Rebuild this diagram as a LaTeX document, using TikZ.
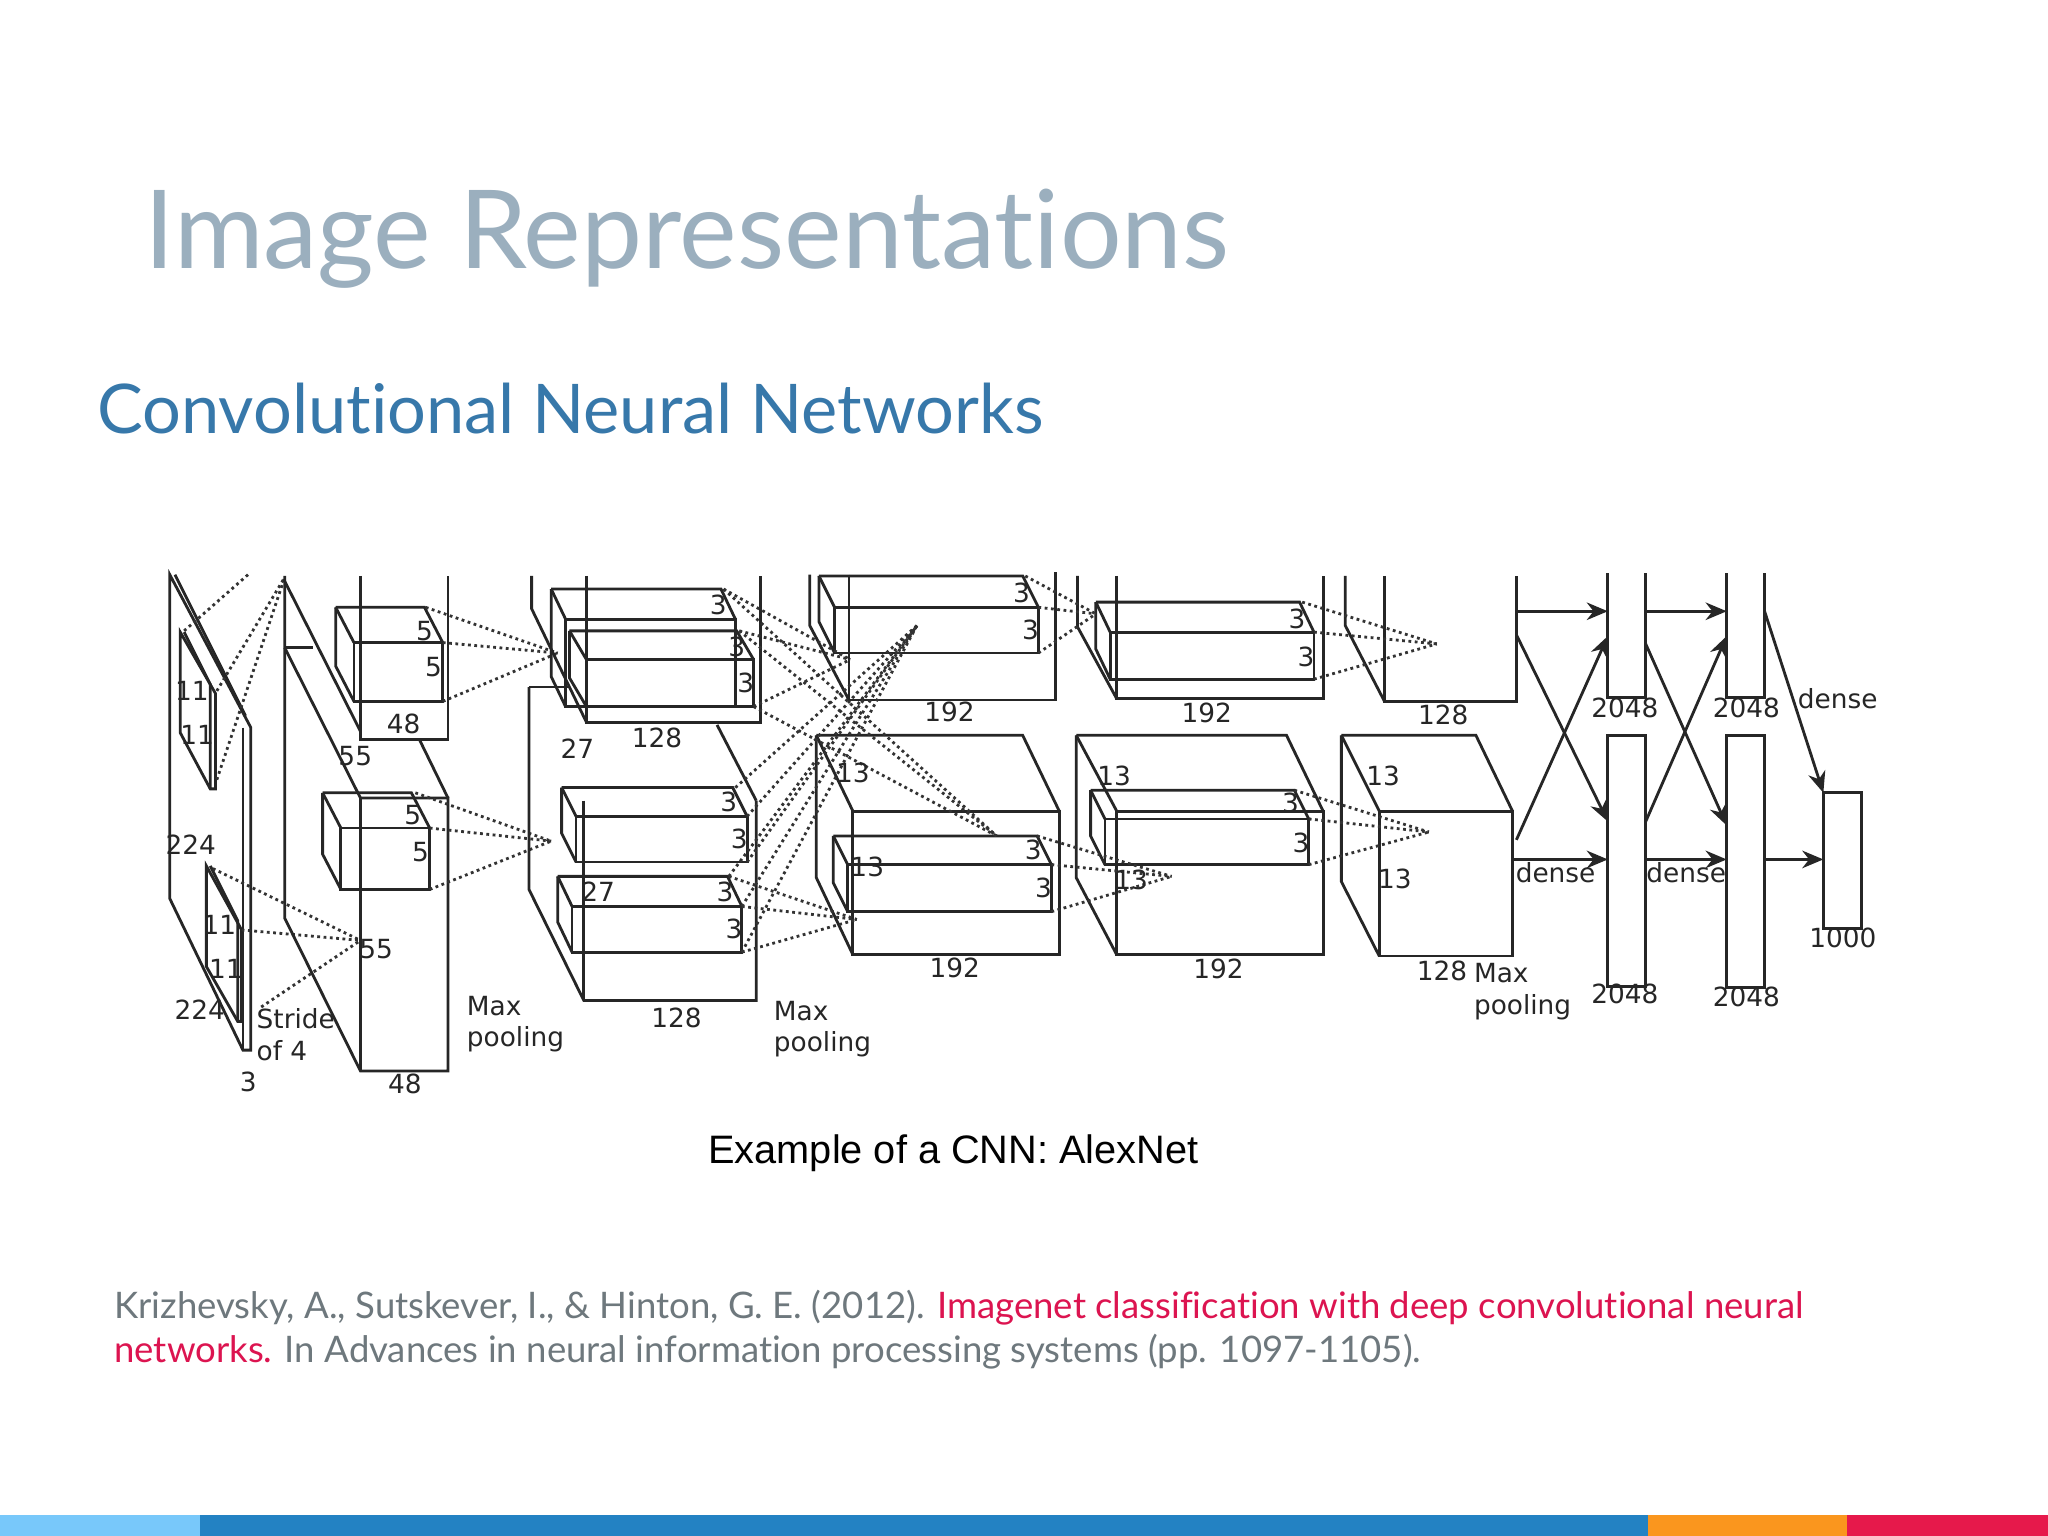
\documentclass[tikz,border=0pt]{standalone}
\usepackage{fontspec}
\setmainfont{Lato}[RawFeature=-liga]
\newfontfamily\figf{DejaVu Sans}
\newfontfamily\arialf{Liberation Sans}
\usetikzlibrary{arrows.meta}
\definecolor{titlec}{RGB}{155,175,190}
\definecolor{subc}{RGB}{55,120,170}
\definecolor{citec}{RGB}{110,120,125}
\definecolor{pinkc}{RGB}{220,20,80}
\definecolor{barA}{RGB}{120,200,250}
\definecolor{barB}{RGB}{35,130,195}
\definecolor{barC}{RGB}{250,150,30}
\definecolor{barD}{RGB}{230,25,75}
\newcommand\alexcube[6]{%
  \draw[ln] (#1,#2) rectangle (#3,#4);
  \draw[ln] (#5,#6) -- ({#5+#3-#1},#6) -- (#3,#2);
  \draw[ln] (#5,#6) -- (#1,#2);
  \draw[ln] (#5,#6) -- (#5,{#6+#4-#2}) -- (#1,#4);
}
\begin{document}
\begin{tikzpicture}[x=0.013061cm,y=-0.013061cm,
  ln/.style={line width=0.8pt,black!85},
  dl/.style={line width=0.8pt,densely dotted,black!80},
  ar/.style={line width=0.8pt,black!85,-{Stealth[length=6pt,width=5pt]}},
  lb/.style={font=\figf\fontsize{7.5}{9}\selectfont,inner sep=0pt,text=black!85},
  lbl/.style={lb,anchor=west,align=left}]
\fill[white] (0,0) rectangle (1568,1176);
\useasboundingbox (0,0) rectangle (1568,1176);
% texts
\node[anchor=west,text=titlec,font=\fontsize{31}{36}\selectfont,inner sep=0pt] (title) at (110,183) {Image Representations};
\node[anchor=west,text=subc,font=\fontsize{19.5}{24}\selectfont,inner sep=0pt] (sub) at (74,313) {Convolutional Neural Networks};
\node[text=black,font=\arialf\fontsize{11.3}{13}\selectfont,inner sep=0pt] (cap) at (730,883) {Example of a CNN: AlexNet};
\node[anchor=west,text=citec,font=\fontsize{10.4}{13}\selectfont,inner sep=0pt] (cite1) at (87,1001) {Krizhevsky, A., Sutskever, I., \& Hinton, G. E. (2012). \textcolor{pinkc}{Imagenet classification with deep convolutional neural}};
\node[anchor=west,text=citec,font=\fontsize{10.4}{13}\selectfont,inner sep=0pt] (cite2) at (87,1035) {\textcolor{pinkc}{networks.} In Advances in neural information processing systems (pp. 1097-1105).};
% bar
\fill[barA] (0,1160) rectangle (153,1176);
\fill[barB] (153,1160) rectangle (1262,1176);
\fill[barC] (1262,1160) rectangle (1414,1176);
\fill[barD] (1414,1160) rectangle (1568,1176);
% ---- input
\draw[ln] (130,440) -- (192,557) -- (192,804) -- (186,804) -- (130,688) -- cycle;
\draw[ln] (134,440) -- (188,548);
\draw[ln] (186,557) -- (186,804);
\draw[ln] (138,484) -- (165,531) -- (165,604) -- (161,604) -- (138,561) -- cycle;
\draw[ln] (141,484) -- (161,524) -- (161,604);
\draw[ln] (158,663) -- (185,712) -- (185,782) -- (182,782) -- (158,740) -- cycle;
\draw[ln] (161,663) -- (182,705) -- (182,782);
\draw[dl] (141,483) -- (191,439);
\draw[dl] (166,529) -- (218,442);
\draw[dl] (166,597) -- (218,442);
\draw[dl] (163,665) -- (276,720);
\draw[dl] (185,712) -- (276,720);
\draw[dl] (200,771) -- (276,720);
% ---- layer 2
\draw[ln] (276,441) -- (276,566) -- (343,566) -- (343,441);
\draw[ln] (218,441) -- (218,703) -- (276,820) -- (343,820) -- (343,611) -- (276,611) -- (276,820);
\draw[ln] (218,445) -- (276,560);
\draw[ln] (218,496) -- (240,496);
\draw[ln] (218,496) -- (276,611);
\draw[ln] (321,566) -- (343,611);
\alexcube{271}{492}{339}{537}{257}{465}
\alexcube{261}{634}{329}{681}{247}{607}
\draw[dl] (326,465) -- (427,500);
\draw[dl] (339,492) -- (427,500);
\draw[dl] (339,537) -- (427,500);
\draw[dl] (318,607) -- (422,644);
\draw[dl] (329,634) -- (422,644);
\draw[dl] (329,681) -- (422,644);
% ---- layer 3
\draw[ln] (407,441) -- (407,466) -- (449,553);
\draw[ln] (449,441) -- (449,553) -- (582,553) -- (582,441);
\draw[ln] (405,526) -- (435,526);
\draw[ln] (405,526) -- (405,681) -- (447,766) -- (579,766) -- (579,613);
\draw[ln] (447,613) -- (447,766);
\draw[ln] (549,555) -- (579,613);
\alexcube{433}{474}{563}{541}{422}{451}
\alexcube{449}{505}{577}{541}{436}{483}
\alexcube{441}{625}{572}{660}{430}{603}
\alexcube{438}{694}{568}{729}{427}{671}
% ---- layer 4
\draw[ln] (620,440) -- (620,479) -- (650,536);
\draw[ln] (650,440) -- (650,536) -- (808,536) -- (808,438);
\alexcube{639}{465}{795}{500}{627}{441}
\draw[ln] (625,563) -- (783,563) -- (811,621);
\draw[ln] (625,563) -- (625,672) -- (653,731);
\draw[ln] (625,563) -- (653,621);
\draw[ln] (653,621) rectangle (811,731);
\alexcube{649}{662}{805}{698}{638}{640}
% ---- layer 5
\draw[ln] (825,441) -- (825,480) -- (855,535);
\draw[ln] (855,441) -- (855,535) -- (1013,535) -- (1013,441);
\alexcube{850}{484}{1006}{520}{839}{461}
\draw[ln] (824,563) -- (985,563) -- (1013,621);
\draw[ln] (824,563) -- (824,672) -- (855,731);
\draw[ln] (824,563) -- (855,621);
\draw[ln] (855,621) rectangle (1013,731);
\alexcube{846}{627}{1002}{662}{835}{605}
% ---- layer 6
\draw[ln] (1030,441) -- (1030,479) -- (1060,537);
\draw[ln] (1060,441) -- (1060,537) -- (1161,537) -- (1161,441);
\draw[ln] (1027,563) -- (1130,563) -- (1158,621);
\draw[ln] (1027,563) -- (1027,675) -- (1056,732);
\draw[ln] (1027,563) -- (1056,621);
\draw[ln] (1056,621) rectangle (1158,732);
% dotted between conv layers
\foreach \p in {(554,451),(566,483),(577,541)} {\draw[dl] \p -- (651,505); \draw[dl] \p -- (763,640);}
\foreach \p in {(563,603),(572,625),(572,660)} {\draw[dl] \p -- (702,479);}
\foreach \p in {(558,671),(568,694),(568,729)} {\draw[dl] \p -- (656,704); \draw[dl] \p -- (702,479);}
\foreach \p in {(785,441),(795,465),(795,500)} {\draw[dl] \p -- (839,470);}
\foreach \p in {(794,640),(805,662),(805,698)} {\draw[dl] \p -- (897,671);}
\foreach \p in {(997,461),(1006,484),(1006,520)} {\draw[dl] \p -- (1100,493);}
\foreach \p in {(991,605),(1002,627),(1002,662)} {\draw[dl] \p -- (1094,637);}
% ---- dense
\draw[ln] (1231,439) -- (1231,534) -- (1260,534) -- (1260,439);
\draw[ln] (1231,563) rectangle (1260,755);
\draw[ln] (1322,439) -- (1322,534) -- (1351,534) -- (1351,439);
\draw[ln] (1322,563) rectangle (1351,756);
\draw[ln] (1396,607) rectangle (1425,711);
\draw[ar] (1161,468) -- (1231,468);
\draw[ar] (1161,486) -- (1231,629);
\draw[ar] (1161,643) -- (1231,487);
\draw[ar] (1158,658) -- (1231,658);
\draw[ar] (1260,468) -- (1322,468);
\draw[ar] (1260,493) -- (1322,632);
\draw[ar] (1260,629) -- (1322,487);
\draw[ar] (1260,658) -- (1322,658);
\draw[ar] (1351,468) -- (1396,607);
\draw[ar] (1351,658) -- (1396,658);
% ---- labels
\node[lb] (l1) at (146,647) {224};
\node[lb] (l2) at (147,529) {11};
\node[lb] (l3) at (151,563) {11};
\node[lb] (l4) at (168,708) {11};
\node[lb] (l5) at (173,742) {11};
\node[lb] (l6) at (153,773) {224};
\node[lbl] (l7) at (196,792) {Stride\\of 4};
\node[lb] (l8) at (190,828) {3};
\node[lb] (l9) at (288,727) {55};
\node[lb] (l10) at (272,579) {55};
\node[lb] (l11) at (325,483) {5};
\node[lb] (l12) at (332,511) {5};
\node[lb] (l13) at (316,624) {5};
\node[lb] (l14) at (322,652) {5};
\node[lb] (l15) at (309,554) {48};
\node[lb] (l16) at (310,830) {48};
\node[lbl] (l17) at (357,784) {Max\\pooling};
\node[lb] (l18) at (550,463) {3};
\node[lb] (l19) at (564,495) {3};
\node[lb] (l20) at (571,523) {3};
\node[lb] (l21) at (442,573) {27};
\node[lb] (l22) at (503,565) {128};
\node[lb] (l23) at (558,614) {3};
\node[lb] (l24) at (566,642) {3};
\node[lb] (l25) at (458,683) {27};
\node[lb] (l26) at (555,683) {3};
\node[lb] (l27) at (562,711) {3};
\node[lb] (l28) at (518,779) {128};
\node[lbl] (l29) at (592,788) {Max\\pooling};
\node[lb] (l30) at (782,454) {3};
\node[lb] (l31) at (789,482) {3};
\node[lb] (l32) at (727,545) {192};
\node[lb] (l33) at (653,592) {13};
\node[lb] (l34) at (664,664) {13};
\node[lb] (l35) at (791,651) {3};
\node[lb] (l36) at (799,680) {3};
\node[lb] (l37) at (731,741) {192};
\node[lb] (l38) at (993,474) {3};
\node[lb] (l39) at (1000,503) {3};
\node[lb] (l40) at (924,546) {192};
\node[lb] (l41) at (853,594) {13};
\node[lb] (l42) at (988,615) {3};
\node[lb] (l43) at (996,645) {3};
\node[lb] (l44) at (866,674) {13};
\node[lb] (l45) at (933,742) {192};
\node[lb] (l46) at (1105,547) {128};
\node[lb] (l47) at (1059,594) {13};
\node[lb] (l48) at (1068,673) {13};
\node[lb] (l49) at (1104,743) {128};
\node[lbl] (l50) at (1128,759) {Max\\pooling};
\node[lb] (l51) at (1244,542) {2048};
\node[lb] (l52) at (1337,542) {2048};
\node[lb] (l53) at (1244,761) {2048};
\node[lb] (l54) at (1337,763) {2048};
\node[lb] (l55) at (1411,718) {1000};
\node[lb] (l56) at (1191,668) {dense};
\node[lb] (l57) at (1291,668) {dense};
\node[lb] (l58) at (1407,535) {dense};
\end{tikzpicture}
\end{document}
